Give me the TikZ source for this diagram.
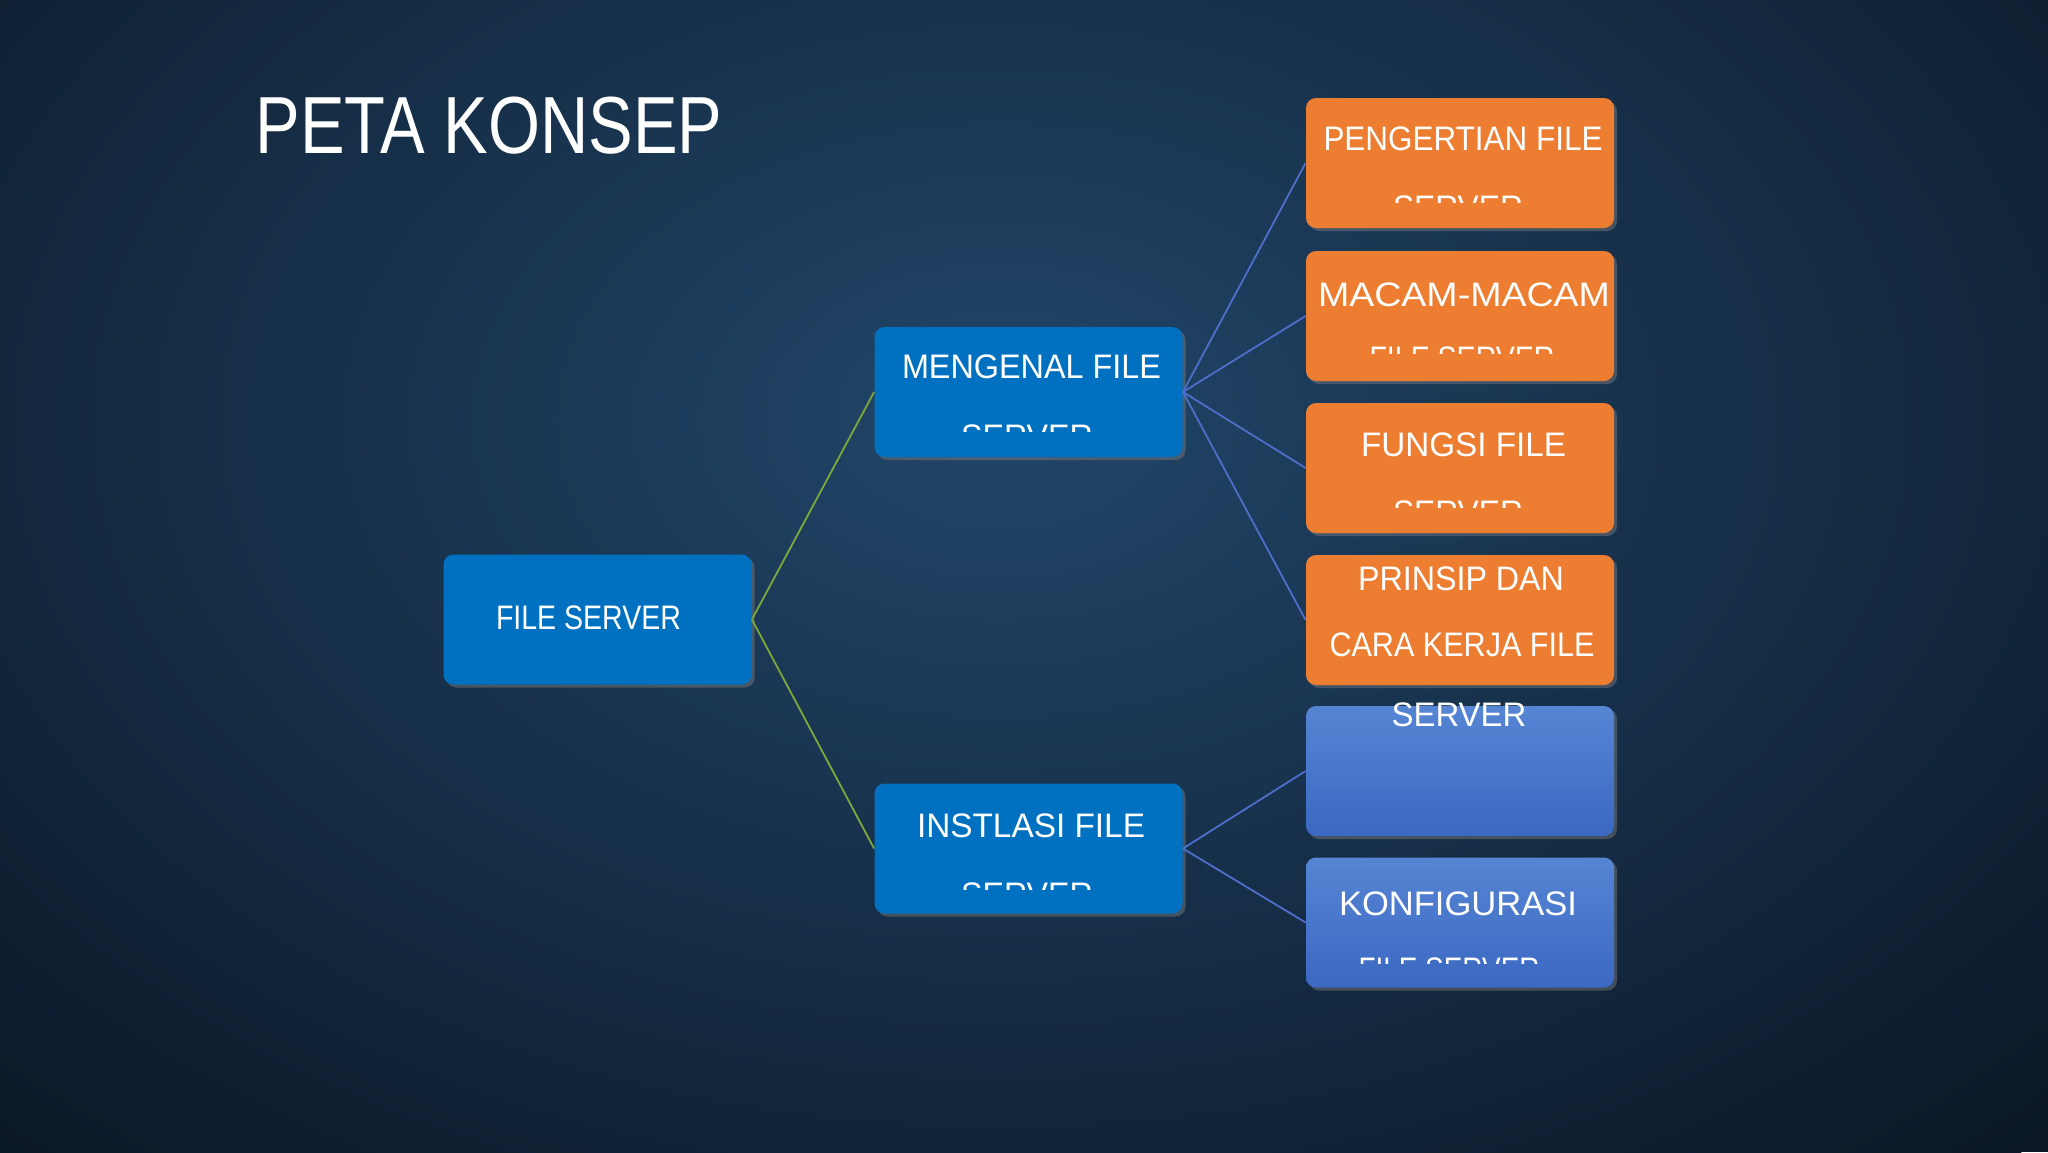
\documentclass[tikz,border=0pt]{standalone}
\usepackage{fontspec}
\setmainfont{Liberation Sans}
\usetikzlibrary{shadows}
\definecolor{bgin}{HTML}{214669}
\definecolor{bgout}{HTML}{0B1726}
\definecolor{boxblue}{HTML}{0070C0}
\definecolor{boxorange}{HTML}{ED7D31}
\definecolor{lbtop}{HTML}{5685D4}
\definecolor{lbbot}{HTML}{3B68C1}
\definecolor{glink}{HTML}{7FA83C}
\definecolor{blink}{HTML}{4D6FCB}
\tikzset{
  cbox/.style={rounded corners=5pt, minimum width=154pt, minimum height=65pt, inner sep=0pt,
    drop shadow={shadow xshift=1.5pt, shadow yshift=-1.5pt, opacity=0.45}},
  bluebox/.style={cbox, fill=boxblue},
  orangebox/.style={cbox, fill=boxorange},
  lightbox/.style={cbox, top color=lbtop, bottom color=lbbot},
  tl/.style={text=white, inner sep=0pt, outer sep=0pt, anchor=north, font=\fontsize{17}{20}\selectfont},
  gline/.style={draw=glink, line width=0.9pt},
  bline/.style={draw=blink, line width=0.9pt}
}
\begin{document}
\begin{tikzpicture}[x=0.5pt,y=-0.5pt]
\useasboundingbox (0,0) rectangle (2048,1152);
\fill[bgout] (0,0) rectangle (2048,1152);
\begin{scope}
  \clip (0,0) rectangle (2048,1152);
  \shade[inner color=bgin, outer color=bgout] (1000,420) ellipse (1500 and 1000);
\end{scope}

% title
\node[text=white, inner sep=0pt, anchor=north west, font=\fontsize{40.5}{48}\selectfont] (title) at (255,97) {\resizebox{233.5pt}{\height}{PETA KONSEP}};

% boxes
\node[bluebox] (fs) at (597.5,619.5) {};
\node[bluebox] (mf) at (1028.5,392) {};
\node[bluebox] (ins) at (1028.5,848.5) {};
\node[orangebox] (o1) at (1460,163) {};
\node[orangebox] (o2) at (1460,316) {};
\node[orangebox] (o3) at (1460,468) {};
\node[orangebox] (o4) at (1460,620) {};
\node[lightbox] (b1) at (1460,771) {};
\node[lightbox] (b2) at (1460,922.5) {};

% connectors
\draw[gline] (fs.east) -- (mf.west);
\draw[gline] (fs.east) -- (ins.west);
\foreach \t in {o1,o2,o3,o4} \draw[bline] (mf.east) -- (\t.west);
\foreach \t in {b1,b2} \draw[bline] (ins.east) -- (\t.west);

% texts
\node[tl] (tfs) at (588.5,606) {\resizebox{92.5pt}{\height}{FILE SERVER}};
\node[tl] (tmf) at (1031.5,355) {\resizebox{129.5pt}{\height}{MENGENAL FILE}};
\node[tl] (tins) at (1031,814) {\resizebox{114pt}{\height}{INSTLASI FILE}};
\node[tl] (to1) at (1463,127) {\resizebox{139.5pt}{\height}{PENGERTIAN FILE}};
\node[tl] (to2) at (1464,283) {\resizebox{146pt}{\height}{MACAM-MACAM}};
\node[tl] (to3) at (1463.5,433) {\resizebox{102.5pt}{\height}{FUNGSI FILE}};
\node[tl] (to4a) at (1461,567) {\resizebox{103pt}{\height}{PRINSIP DAN}};
\node[tl] (to4b) at (1462,633) {\resizebox{132.5pt}{\height}{CARA KERJA FILE}};
\node[tl] (to4c) at (1459,703) {\resizebox{67.5pt}{\height}{SERVER}};
\node[tl] (tb2) at (1458,892) {\resizebox{119pt}{\height}{KONFIGURASI}};

% clipped second lines
\begin{scope}
  \clip (875,424) rectangle (1182,431);
  \node[tl] (tmf2) at (1027,425) {\resizebox{66pt}{\height}{SERVER}};
\end{scope}
\begin{scope}
  \clip (875,882) rectangle (1182,889);
  \node[tl] (tins2) at (1027,883) {\resizebox{66pt}{\height}{SERVER}};
\end{scope}
\begin{scope}
  \clip (1306,195) rectangle (1614,202);
  \node[tl] (to12) at (1458,196) {\resizebox{65pt}{\height}{SERVER}};
\end{scope}
\begin{scope}
  \clip (1306,346) rectangle (1614,353);
  \node[tl] (to22) at (1462,347) {\resizebox{92.5pt}{\height}{FILE SERVER}};
\end{scope}
\begin{scope}
  \clip (1306,500) rectangle (1614,507);
  \node[tl] (to32) at (1458,501) {\resizebox{65pt}{\height}{SERVER}};
\end{scope}
\begin{scope}
  \clip (1306,957) rectangle (1614,963);
  \node[tl] (tb22) at (1449,958) {\resizebox{90.5pt}{\height}{FILE SERVER}};
\end{scope}
\end{tikzpicture}
\end{document}
